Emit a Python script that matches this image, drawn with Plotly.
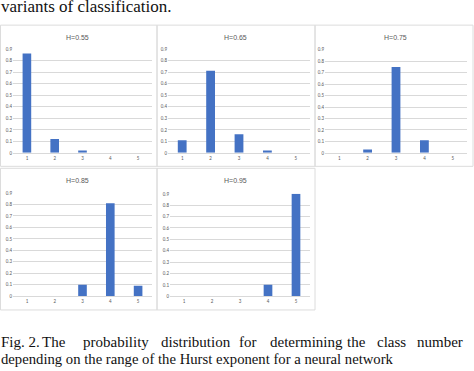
import plotly.graph_objects as go

# ---- data ----
classes = ["1", "2", "3", "4", "5"]
titles = ["H=0.55", "H=0.65", "H=0.75", "H=0.85", "H=0.95"]
p_055 = [0.86, 0.12, 0.02, 0.0, 0.0]
p_065 = [0.11, 0.71, 0.16, 0.02, 0.0]
p_075 = [0.0, 0.03, 0.75, 0.11, 0.0]
p_085 = [0.0, 0.0, 0.10, 0.81, 0.09]
p_095 = [0.0, 0.0, 0.0, 0.10, 0.90]
y_ticks = [0, 0.1, 0.2, 0.3, 0.4, 0.5, 0.6, 0.7, 0.8, 0.9]
y_tick_text = ["0", "0.1", "0.2", "0.3", "0.4", "0.5", "0.6", "0.7", "0.8", "0.9"]
series = [p_055, p_065, p_075, p_085, p_095]

top_text = "variants of classification."
caption_line1 = ["Fig. 2.", "The", "probability", "distribution", "for", "determining", "the", "class", "number"]
caption_line2 = "depending on the range of the Hurst exponent for a neural network"

# ---- layout (pixels) ----
W, H = 474, 371
def xd(px): return px / W
def yd(py): return 1 - py / H

# plot areas: (x0, x1, y_top(0.9), y_bottom(0))
areas = [
    (13, 152, 46.7, 152.3),
    (168, 310, 46.7, 152.3),
    (325, 467, 47.5, 152.3),
    (13, 152, 193, 298),
    (170, 310, 194, 298),
]
title_pos = [(77, 35), (235, 35), (395, 35), (77, 180), (235, 180)]
borders = [
    (0.5, 22.5, 157, 166), (157, 22.5, 315, 166), (315, 22.5, 473, 166),
    (0.5, 168, 157, 312), (157, 168, 315, 312),
]

fig = go.Figure()
layout = dict(
    width=W, height=H, margin=dict(l=0, r=0, t=0, b=0),
    paper_bgcolor="white", plot_bgcolor="white", showlegend=False,
    annotations=[], shapes=[],
)

grid_c = "#d9d9d9"
tick_c = "#595959"

for i, (vals, area) in enumerate(zip(series, areas)):
    n = "" if i == 0 else str(i + 1)
    fig.add_trace(go.Bar(
        x=classes, y=vals, width=0.31, marker=dict(color="#4472C4", line=dict(width=0)),
        xaxis="x" + n, yaxis="y" + n, hoverinfo="x+y",
    ))
    x0, x1, yt, yb = area
    layout["xaxis" + n] = dict(
        domain=[xd(x0), xd(x1)], anchor="y" + n, type="category",
        range=[-0.5, 4.5], showgrid=False, showline=True, linecolor=grid_c, linewidth=1,
        ticks="", tickfont=dict(size=5, color=tick_c, family="Calibri, Carlito, Liberation Sans, sans-serif"),
        fixedrange=True, zeroline=False,
    )
    layout["yaxis" + n] = dict(
        domain=[yd(yb), yd(yt)], anchor="x" + n, range=[0, 0.9],
        tickvals=y_ticks, ticktext=y_tick_text, showgrid=True, gridcolor=grid_c, gridwidth=1,
        showline=False, zeroline=False, ticks="", ticklen=0,
        tickfont=dict(size=5, color=tick_c, family="Calibri, Carlito, Liberation Sans, sans-serif"),
        fixedrange=True,
    )
    tx, ty = title_pos[i]
    layout["annotations"].append(dict(
        text=titles[i], x=xd(tx), y=yd(ty), xref="paper", yref="paper",
        xanchor="center", yanchor="middle", showarrow=False,
        font=dict(size=7, color=tick_c, family="Liberation Sans, sans-serif"),
    ))

for (bx0, by0, bx1, by1) in borders:
    layout["shapes"].append(dict(
        type="rect", xref="paper", yref="paper",
        x0=xd(bx0), x1=xd(bx1), y0=yd(by1), y1=yd(by0),
        line=dict(color="#dcdcdc", width=1), fillcolor="rgba(0,0,0,0)", layer="below",
    ))

serif = "Liberation Serif, Times New Roman, serif"
layout["annotations"].append(dict(
    text=top_text, x=xd(-1), y=yd(4), xref="paper", yref="paper",
    xanchor="left", yanchor="middle", showarrow=False,
    font=dict(size=17, color="#111111", family=serif),
))

word_x = [-1, 40, 81, 159, 237, 268, 345, 375, 415]
for w, wx in zip(caption_line1, word_x):
    layout["annotations"].append(dict(
        text=w, x=xd(wx), y=yd(345), xref="paper", yref="paper",
        xanchor="left", yanchor="middle", showarrow=False,
        font=dict(size=15, color="#111111", family=serif),
    ))
layout["annotations"].append(dict(
    text=caption_line2, x=xd(-1), y=yd(362), xref="paper", yref="paper",
    xanchor="left", yanchor="middle", showarrow=False,
    font=dict(size=14.7, color="#111111", family=serif),
))

fig.update_layout(**layout)
fig.write_html("out.html", config={"displayModeBar": False},
               post_script="document.body.style.margin='0';")
